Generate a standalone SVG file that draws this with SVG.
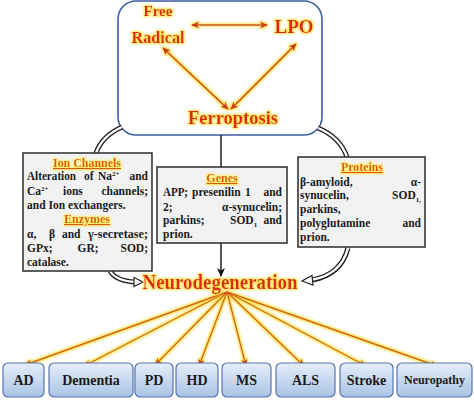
<svg xmlns="http://www.w3.org/2000/svg" width="474" height="401" viewBox="0 0 474 401">
<defs>
<linearGradient id="bg" x1="0" y1="0" x2="0" y2="1">
<stop offset="0" stop-color="#e6eef9"/>
<stop offset="1" stop-color="#a9c3e6"/>
</linearGradient>
<filter id="glow" x="-20%" y="-60%" width="140%" height="220%">
<feMorphology in="SourceAlpha" operator="dilate" radius="1.3" result="d"/>
<feGaussianBlur in="d" stdDeviation="1.3" result="b"/>
<feFlood flood-color="#ffe04a"/>
<feComposite in2="b" operator="in" result="g"/>
<feMerge><feMergeNode in="g"/><feMergeNode in="SourceGraphic"/></feMerge>
</filter>
<filter id="hl" x="-10%" y="-40%" width="120%" height="180%">
<feMorphology in="SourceAlpha" operator="dilate" radius="0.8" result="d"/>
<feGaussianBlur in="d" stdDeviation="0.9" result="b"/>
<feFlood flood-color="#fff06a"/>
<feComposite in2="b" operator="in" result="g"/>
<feMerge><feMergeNode in="g"/><feMergeNode in="SourceGraphic"/></feMerge>
</filter>
<marker id="ah" markerWidth="8" markerHeight="8" refX="7" refY="4" orient="auto-start-reverse" markerUnits="userSpaceOnUse">
<path d="M0,0.5 L8,4 L0,7.5 L2,4 Z" fill="#cc3a1c"/>
</marker>
<marker id="fh" markerWidth="8" markerHeight="8" refX="7" refY="4" orient="auto" markerUnits="userSpaceOnUse">
<path d="M0,0.8 L8,4 L0,7.2 L2,4 Z" fill="#d0401c"/>
</marker>
<marker id="bh" markerWidth="9" markerHeight="9" refX="8" refY="4.5" orient="auto" markerUnits="userSpaceOnUse">
<path d="M0,0.5 L9,4.5 L0,8.5 L2.5,4.5 Z" fill="#111"/>
</marker>
</defs>

<g id="ferroptosis-box">
<rect x="118" y="1" width="204" height="134" rx="18" ry="18" fill="#fff" stroke="#3d5ca3" stroke-width="1.6"/>
</g>

<g id="connectors">
<g id="top-arrows" filter="url(#glow)" fill="none" stroke="#cc3a1c" stroke-width="1.6">
<line x1="192" y1="25" x2="267" y2="25" marker-start="url(#ah)" marker-end="url(#ah)"/>
<line x1="163" y1="48" x2="228" y2="109" marker-start="url(#ah)" marker-end="url(#ah)"/>
<line x1="296" y1="44" x2="231" y2="109" marker-start="url(#ah)" marker-end="url(#ah)"/>
</g>
<line x1="221" y1="135" x2="221" y2="167" stroke="#111" stroke-width="1.4"/>
<line x1="221" y1="243" x2="221" y2="276" stroke="#111" stroke-width="1.4" marker-end="url(#bh)"/>
<g fill="none" stroke="#222" stroke-width="5">
<path d="M122,127 Q102,136 96,153"/>
<path d="M318,128 Q340,137 347,157"/>
<path d="M110,271 Q116,281 135,282"/>
<path d="M348,248 Q341,275 312,280"/>
</g>
<g fill="none" stroke="#fff" stroke-width="2.4">
<path d="M122,127 Q102,136 96,153"/>
<path d="M318,128 Q340,137 347,157"/>
<path d="M110,271 Q116,281 136,282"/>
<path d="M348,248 Q341,275 311,280"/>
</g>
<g fill="#fff" stroke="#222" stroke-width="1.2">
<polygon points="134,277.5 143,282 134,286.5"/>
<polygon points="312,275.5 302,281 313,285"/>
</g>
<g id="fan" filter="url(#glow)" fill="none" stroke="#d0601c" stroke-width="1.4">
<line x1="227" y1="292" x2="25" y2="365" marker-end="url(#fh)"/>
<line x1="227" y1="292" x2="84" y2="366" marker-end="url(#fh)"/>
<line x1="227" y1="292" x2="155" y2="365" marker-end="url(#fh)"/>
<line x1="227" y1="292" x2="199" y2="366" marker-end="url(#fh)"/>
<line x1="227" y1="292" x2="246" y2="366" marker-end="url(#fh)"/>
<line x1="227" y1="292" x2="304" y2="366" marker-end="url(#fh)"/>
<line x1="227" y1="292" x2="366" y2="366" marker-end="url(#fh)"/>
<line x1="227" y1="292" x2="437" y2="366" marker-end="url(#fh)"/>
</g>
</g>

<g font-family="Liberation Serif, Times New Roman, serif" font-weight="bold">
<g fill="#d92b1c" text-anchor="middle">
<g id="free-radical" filter="url(#glow)">
<text x="158" y="16" font-size="15" textLength="29" lengthAdjust="spacingAndGlyphs">Free</text>
<text x="158" y="43" font-size="16" textLength="53" lengthAdjust="spacingAndGlyphs">Radical</text>
</g>
<g id="lpo" filter="url(#glow)">
<text x="294" y="33" font-size="19" textLength="39" lengthAdjust="spacingAndGlyphs">LPO</text>
</g>
<g id="ferroptosis" filter="url(#glow)">
<text x="233" y="124" font-size="19" textLength="90" lengthAdjust="spacingAndGlyphs">Ferroptosis</text>
</g>
<g id="neurodegeneration" filter="url(#glow)">
<text x="220" y="289" font-size="20" textLength="155" lengthAdjust="spacingAndGlyphs">Neurodegeneration</text>
</g>
</g>

<g id="ion-channels-enzymes">
<rect x="23" y="153" width="129" height="118" fill="#f2f2f2" stroke="#2b2b2b" stroke-width="1.5"/>
<g font-size="12" fill="#e0560e" text-decoration="underline" text-anchor="middle" filter="url(#hl)">
<text x="87" y="167" textLength="68" lengthAdjust="spacingAndGlyphs">Ion Channels</text>
<text x="87" y="223" textLength="46" lengthAdjust="spacingAndGlyphs">Enzymes</text>
</g>
<g font-size="11.5" fill="#1a1a1a">
<text x="27" y="180" textLength="49" lengthAdjust="spacingAndGlyphs">Alteration</text>
<text x="84" y="180" textLength="9.6" lengthAdjust="spacingAndGlyphs">of</text>
<text x="98" y="180">Na<tspan font-size="7" dy="-4">2+</tspan></text>
<text x="148" y="180" text-anchor="end" textLength="18.5" lengthAdjust="spacingAndGlyphs">and</text>
<text x="27" y="195">Ca<tspan font-size="7" dy="-4">2+</tspan></text>
<text x="63" y="195" textLength="19.8" lengthAdjust="spacingAndGlyphs">ions</text>
<text x="148" y="195" text-anchor="end" textLength="46.6" lengthAdjust="spacingAndGlyphs">channels;</text>
<text x="27" y="209" textLength="98.7" lengthAdjust="spacingAndGlyphs">and Ion exchangers.</text>
<text x="27" y="238">α,</text>
<text x="49" y="238">β</text>
<text x="62" y="238" textLength="18.5" lengthAdjust="spacingAndGlyphs">and</text>
<text x="148" y="238" text-anchor="end" textLength="60" lengthAdjust="spacingAndGlyphs">γ-secretase;</text>
<text x="27" y="252" textLength="25.6" lengthAdjust="spacingAndGlyphs">GPx;</text>
<text x="88" y="252" text-anchor="middle" textLength="21" lengthAdjust="spacingAndGlyphs">GR;</text>
<text x="148" y="252" text-anchor="end" textLength="27.5" lengthAdjust="spacingAndGlyphs">SOD;</text>
<text x="27" y="266" textLength="41.8" lengthAdjust="spacingAndGlyphs">catalase.</text>
</g>
</g>

<g id="genes">
<rect x="157" y="167" width="130" height="76" fill="#f2f2f2" stroke="#2b2b2b" stroke-width="1.5"/>
<text x="222" y="182" font-size="12" fill="#e0560e" text-decoration="underline" text-anchor="middle" filter="url(#hl)" textLength="31.3" lengthAdjust="spacingAndGlyphs">Genes</text>
<g font-size="11.5" fill="#1a1a1a">
<text x="163" y="196" textLength="25" lengthAdjust="spacingAndGlyphs">APP;</text>
<text x="192" y="196" textLength="48.6" lengthAdjust="spacingAndGlyphs">presenilin</text>
<text x="245" y="196">1</text>
<text x="282" y="196" text-anchor="end" textLength="18.5" lengthAdjust="spacingAndGlyphs">and</text>
<text x="163" y="211">2;</text>
<text x="282" y="211" text-anchor="end" textLength="60" lengthAdjust="spacingAndGlyphs">α-synucelin;</text>
<text x="163" y="224" textLength="41.5" lengthAdjust="spacingAndGlyphs">parkins;</text>
<text x="230" y="224">SOD<tspan font-size="7" dy="3">1</tspan></text>
<text x="282" y="224" text-anchor="end" textLength="18.5" lengthAdjust="spacingAndGlyphs">and</text>
<text x="163" y="238" textLength="29.7" lengthAdjust="spacingAndGlyphs">prion.</text>
</g>
</g>

<g id="proteins">
<rect x="298" y="157" width="127" height="90" fill="#f2f2f2" stroke="#2b2b2b" stroke-width="1.5"/>
<text x="362" y="171" font-size="12" fill="#e0560e" text-decoration="underline" text-anchor="middle" filter="url(#hl)" textLength="42" lengthAdjust="spacingAndGlyphs">Proteins</text>
<g font-size="11.5" fill="#1a1a1a">
<text x="300" y="186" textLength="52.6" lengthAdjust="spacingAndGlyphs">β-amyloid,</text>
<text x="421" y="186" text-anchor="end" textLength="10.2" lengthAdjust="spacingAndGlyphs">α-</text>
<text x="300" y="199" textLength="48.9" lengthAdjust="spacingAndGlyphs">synucelin,</text>
<text x="421" y="199" text-anchor="end">SOD<tspan font-size="7" dy="3">1,</tspan></text>
<text x="300" y="213" textLength="40.6" lengthAdjust="spacingAndGlyphs">parkins,</text>
<text x="300" y="227" textLength="70.3" lengthAdjust="spacingAndGlyphs">polyglutamine</text>
<text x="421" y="227" text-anchor="end" textLength="18.5" lengthAdjust="spacingAndGlyphs">and</text>
<text x="300" y="241" textLength="29.7" lengthAdjust="spacingAndGlyphs">prion.</text>
</g>
</g>

<g font-size="14" fill="#1a1a1a" text-anchor="middle">
<g id="ad"><rect x="3" y="363" width="41" height="34" rx="5" fill="url(#bg)" stroke="#5674ad" stroke-width="1.2"/><text x="23.5" y="385" textLength="20.2" lengthAdjust="spacingAndGlyphs">AD</text></g>
<g id="dementia"><rect x="49" y="363" width="84" height="34" rx="5" fill="url(#bg)" stroke="#5674ad" stroke-width="1.2"/><text x="91" y="385" textLength="57.5" lengthAdjust="spacingAndGlyphs">Dementia</text></g>
<g id="pd"><rect x="135" y="363" width="38" height="34" rx="5" fill="url(#bg)" stroke="#5674ad" stroke-width="1.2"/><text x="154" y="385" textLength="18.7" lengthAdjust="spacingAndGlyphs">PD</text></g>
<g id="hd"><rect x="176" y="363" width="42" height="34" rx="5" fill="url(#bg)" stroke="#5674ad" stroke-width="1.2"/><text x="197" y="385" textLength="21" lengthAdjust="spacingAndGlyphs">HD</text></g>
<g id="ms"><rect x="222" y="363" width="49" height="34" rx="5" fill="url(#bg)" stroke="#5674ad" stroke-width="1.2"/><text x="246.5" y="385" textLength="21" lengthAdjust="spacingAndGlyphs">MS</text></g>
<g id="als"><rect x="276" y="363" width="59" height="34" rx="5" fill="url(#bg)" stroke="#5674ad" stroke-width="1.2"/><text x="305.5" y="385" textLength="27.2" lengthAdjust="spacingAndGlyphs">ALS</text></g>
<g id="stroke"><rect x="340" y="363" width="53" height="34" rx="5" fill="url(#bg)" stroke="#5674ad" stroke-width="1.2"/><text x="366.5" y="385" textLength="39.7" lengthAdjust="spacingAndGlyphs">Stroke</text></g>
<g id="neuropathy"><rect x="397" y="363" width="75" height="34" rx="5" fill="url(#bg)" stroke="#5674ad" stroke-width="1.2"/><text x="434.5" y="384" font-size="12" textLength="61" lengthAdjust="spacingAndGlyphs">Neuropathy</text></g>
</g>
</g>
</svg>
